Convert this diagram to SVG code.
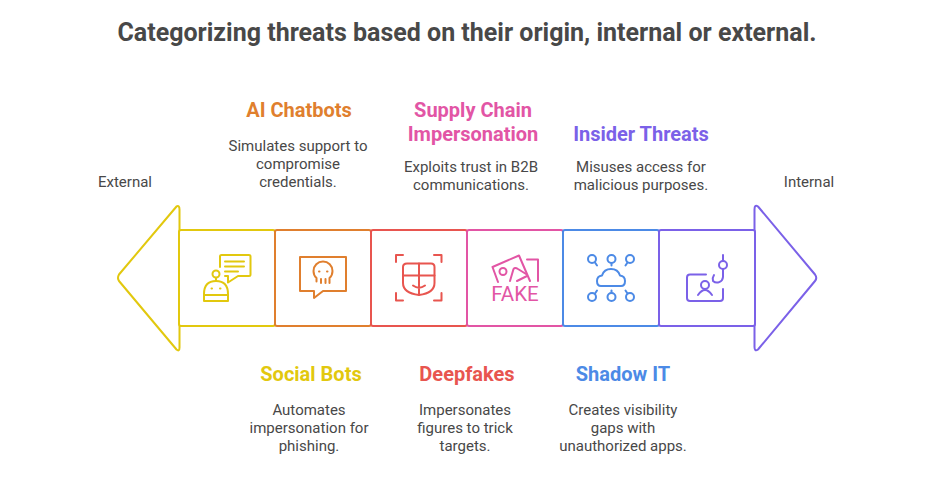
<svg xmlns="http://www.w3.org/2000/svg" width="934" height="495" viewBox="0 0 934 495">
<style>
text{font-family:Roboto,"Liberation Sans",sans-serif;text-anchor:middle}
.d{font-size:15px;fill:#484848}
.h{font-size:20px;font-weight:700}
.t{font-size:25px;font-weight:700;fill:#484848}
.s{fill:#fff;stroke-width:2;stroke-linejoin:round}
.i{fill:none;stroke-width:2;stroke-linecap:round;stroke-linejoin:round}
.y{stroke:#e2c80e}.o{stroke:#e07f2e}.r{stroke:#e8554f}.p{stroke:#e255a5}.b{stroke:#4c8ae6}.v{stroke:#7b61e8}
</style>
<rect width="934" height="495" fill="#fff"/>
<text class="t" x="467" y="41">Categorizing threats based on their origin, internal or external.</text>
<text class="d" x="125" y="187">External</text>
<text class="d" x="809" y="187">Internal</text>
<g id="arrow-left"><path class="s y" d="M179.500 209.500Q179.500 205 176.500 206.500L119 274.500Q117 278 119 281L176.500 349.500Q179.500 352 179.500 347.500Z"/></g>
<g id="arrow-right"><path class="s v" d="M754.500 209.500Q754.500 204 758 206.500L815 274.500Q817.500 278 815 281L758 349.500Q754.500 352 754.500 347Z"/></g>
<g id="social-bots">
<rect class="s y" x="179" y="230" width="96" height="96" rx="2"/>
<g class="i y"><path d="M220 267V256.500Q220 255 221.500 255H249Q250.500 255 250.500 256.500V274.500Q250.500 276 249 276H238L228 282.500V276H225"/><path d="M225 261.500H244M225 266.500H244M225 271.500H238"/><circle cx="216" cy="274" r="3.500"/><path d="M216 278V281"/><path d="M204 301V294Q204 281 216 281Q228 281 228 294V301Z"/><path d="M204 295H228M211.500 288.500H212M220 288.500H220.500"/></g>
<text class="h" x="311" y="380.500" fill="#e2c80e">Social Bots</text>
<text class="d" x="309" y="415">Automates</text><text class="d" x="309" y="433">impersonation for</text><text class="d" x="309" y="451">phishing.</text>
</g>
<g id="ai-chatbots">
<rect class="s o" x="275" y="230" width="96" height="96" rx="2"/>
<g class="i o"><path d="M300 257H346V291H323L314 298V291H300Z"/><path d="M316.500 281.500V278Q313.500 275.500 313.500 271A9.500 9.500 0 0 1 332.500 271Q332.500 275.500 329.500 278V283M321 283V279M325.500 283V279"/><path d="M319 271.500H319.500M327 271.500H327.500"/></g>
<text class="h" x="299" y="116.500" fill="#e07f2e">AI Chatbots</text>
<text class="d" x="298" y="151">Simulates support to</text><text class="d" x="298" y="169">compromise</text><text class="d" x="298" y="187">credentials.</text>
</g>
<g id="deepfakes">
<rect class="s r" x="371" y="230" width="96" height="96" rx="2"/>
<g class="i r"><path d="M403 255H396V262M434 255H441.500V262M396 293V300.500H403M441.500 293V300.500H434"/><path d="M403 267Q403 263.500 407 263.500H431Q434.500 263.500 434.500 267V283Q434.500 293 419 295Q403 293 403 283Z"/><path d="M403 275.500H434.500M419 263.500V295M413 285.500Q419 290 425 285.500"/></g>
<text class="h" x="467" y="380.500" fill="#e8554f">Deepfakes</text>
<text class="d" x="465" y="415">Impersonates</text><text class="d" x="465" y="433">figures to trick</text><text class="d" x="465" y="451">targets.</text>
</g>
<g id="supply-chain">
<rect class="s p" x="467" y="230" width="96" height="96" rx="2"/>
<g class="i p"><path d="M498 282L492.500 267L519 255.500L530 281"/><circle cx="503" cy="271.500" r="3.500"/><path d="M510 281L513.500 269Q515 267 518 269L526 274M517 281L527 276"/><path d="M527 259.500H538V281"/></g>
<text x="515" y="300.500" style="font-size:20.500px;font-weight:400" fill="#e255a5">FAKE</text>
<text class="h" x="473" y="117" fill="#e255a5">Supply Chain</text><text class="h" x="473" y="141" fill="#e255a5">Impersonation</text>
<text class="d" x="471" y="172">Exploits trust in B2B</text><text class="d" x="471" y="190">communications.</text>
</g>
<g id="shadow-it">
<rect class="s b" x="563" y="230" width="96" height="96" rx="2"/>
<g class="i b"><path d="M601 286Q597 286 597 281Q597 276 602 275.500Q604 269 611 269Q618 269 620 275.500Q625 276 625 281Q625 286 621 286Z"/><circle cx="592" cy="259" r="4"/><path d="M595 262.500L597 265.500"/><circle cx="611.500" cy="259" r="4"/><path d="M611.500 263V265.500"/><circle cx="630" cy="259" r="4"/><path d="M627.500 262.500L625.500 265.500"/><circle cx="592" cy="297" r="4"/><path d="M595 293.500L597 290.500"/><circle cx="611.500" cy="297" r="4"/><path d="M611.500 293V290.500"/><circle cx="630" cy="297" r="4"/><path d="M627.500 293.500L625.500 290.500"/></g>
<text class="h" x="623" y="380.500" fill="#4c8ae6">Shadow IT</text>
<text class="d" x="623" y="415">Creates visibility</text><text class="d" x="623" y="433">gaps with</text><text class="d" x="623" y="451">unauthorized apps.</text>
</g>
<g id="insider-threats">
<rect class="s v" x="659" y="230" width="96" height="96" rx="2"/>
<g class="i v"><path d="M706 274.500H690Q687 274.500 687 277.500V298Q687 301 690 301H720Q723 301 723 298V289"/><circle cx="705" cy="285" r="4"/><path d="M698 295Q705 285 712 295"/><path d="M723 255V260.500M723 269V277A6 6 0 0 1 713 281Q712 278 714 275"/><circle cx="723" cy="265" r="4"/></g>
<text class="h" x="641" y="141" fill="#7b61e8">Insider Threats</text>
<text class="d" x="641" y="172">Misuses access for</text><text class="d" x="641" y="190">malicious purposes.</text>
</g>
</svg>
